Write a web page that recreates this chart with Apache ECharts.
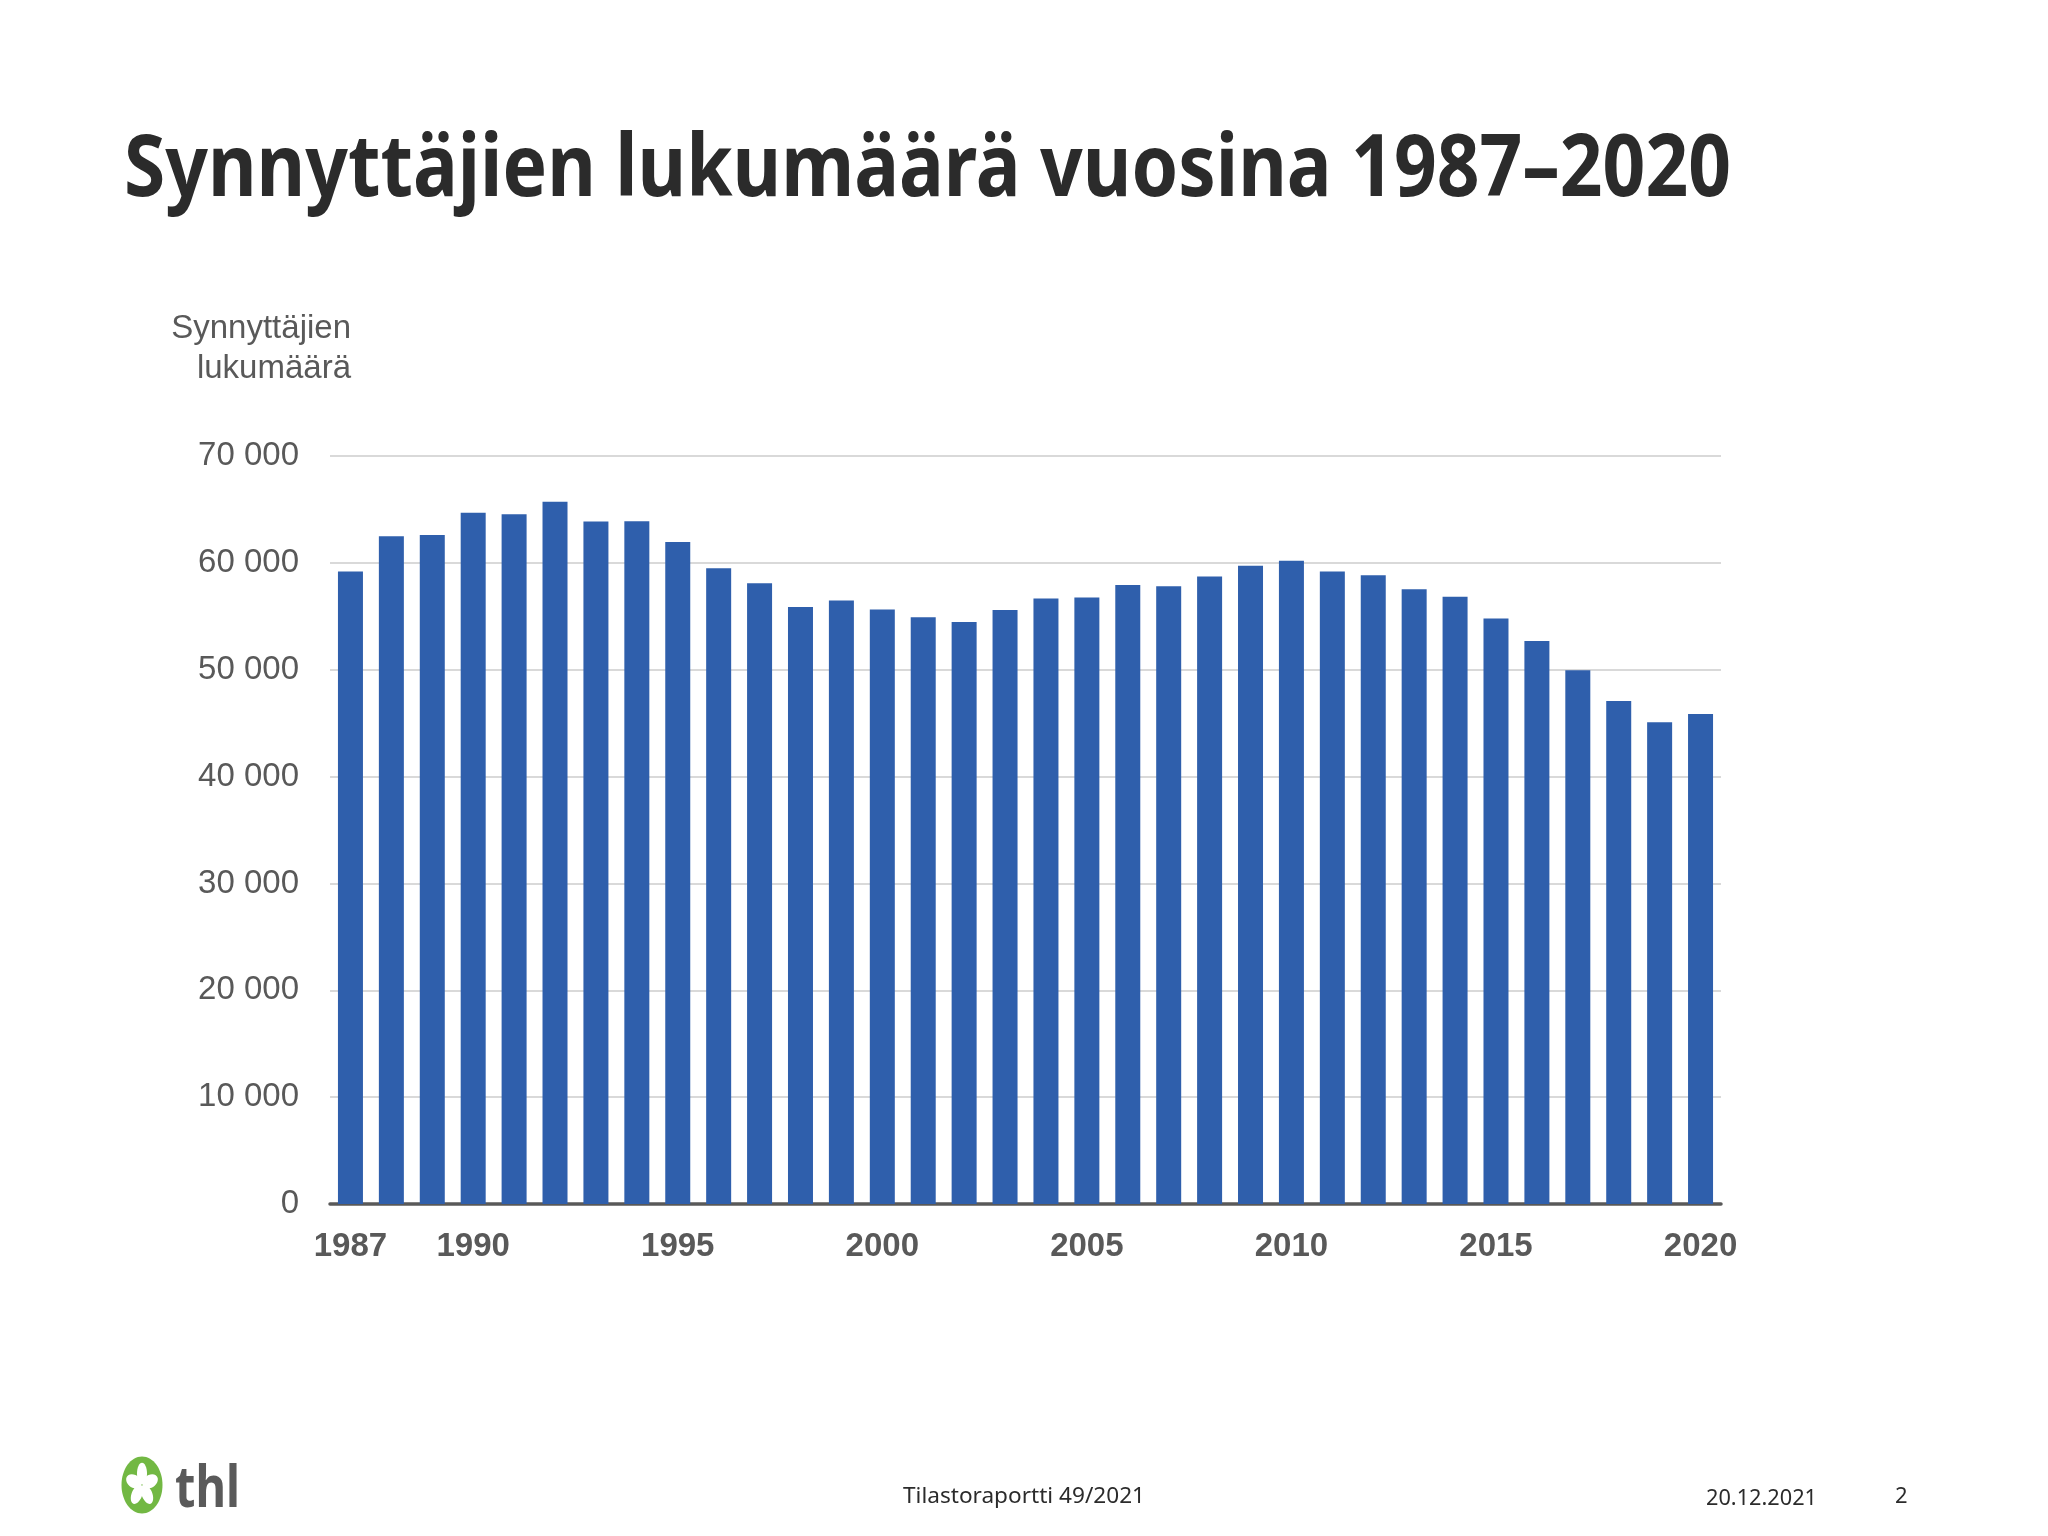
<!DOCTYPE html>
<html>
<head>
<meta charset="utf-8">
<script src="https://cdn.jsdelivr.net/npm/echarts@6/dist/echarts.min.js"></script>
<style>
  html, body { margin: 0; padding: 0; background: #ffffff; }
  #chart { width: 2048px; height: 1536px; }
</style>
</head>
<body>
<div id="chart"></div>
<script>
// ---- data ----
const titleText = 'Synnyttäjien lukumäärä vuosina 1987–2020';
const yAxisTitle = ['Synnyttäjien', 'lukumäärä'];
const years = ['1987','1988','1989','1990','1991','1992','1993','1994','1995','1996',
               '1997','1998','1999','2000','2001','2002','2003','2004','2005','2006',
               '2007','2008','2009','2010','2011','2012','2013','2014','2015','2016',
               '2017','2018','2019','2020'];
const mothers = [59200, 62500, 62600, 64700, 64550, 65730, 63860, 63890, 61960, 59500,
                 58100, 55860, 56480, 55640, 54920, 54460, 55580, 56660, 56760, 57920,
                 57820, 58720, 59720, 60190, 59190, 58850, 57540, 56820, 54800, 52680,
                 49940, 47070, 45080, 45860];
const shownYearLabels = ['1987','1990','1995','2000','2005','2010','2015','2020'];
const yMin = 0, yMax = 70000, yStep = 10000;
const footerCenter = 'Tilastoraportti 49/2021';
const footerDate = '20.12.2021';
const footerPage = '2';
const logoText = 'thl';

// ---- helpers ----
const measureCtx = document.createElement('canvas').getContext('2d');
function fitScale(text, font, target) {
  measureCtx.font = font;
  const w = measureCtx.measureText(text).width;
  return w > 0 ? target / w : 1;
}
function fmtThousands(v) {
  return String(v).replace(/\B(?=(\d{3})+(?!\d))/g, ' ');
}

const chart = echarts.init(document.getElementById('chart'), null, { renderer: 'canvas' });

const titleFont = 'bold 86px "Noto Sans"';
const titleScale = fitScale(titleText, titleFont, 1607);
const footFont = '22px "Noto Sans"';
const footScale = fitScale(footerCenter, footFont, 242);
const dateScale = fitScale(footerDate, footFont, 111);
const logoFont = 'bold 58px "Noto Sans"';
const logoScale = fitScale(logoText, logoFont, 65);

// petals for logo
const petals = [];
for (let i = 0; i < 5; i++) {
  petals.push({
    type: 'ellipse',
    rotation: -i * 2 * Math.PI / 5,
    shape: { cx: 0, cy: -8.5, rx: 5, ry: 8 },
    style: { fill: '#ffffff' }
  });
}

chart.setOption({
  backgroundColor: '#ffffff',
  animation: false,
  grid: { left: 330, right: 327, top: 456, bottom: 332, containLabel: false },
  xAxis: {
    type: 'category',
    data: years,
    axisTick: { show: false },
    axisLine: { lineStyle: { color: '#595959', width: 3.5 } },
    axisLabel: {
      interval: (idx, val) => shownYearLabels.indexOf(val) >= 0,
      color: '#595959',
      fontFamily: 'Liberation Sans',
      fontWeight: 'bold',
      fontSize: 33,
      margin: 26
    }
  },
  yAxis: {
    type: 'value',
    min: yMin, max: yMax, interval: yStep,
    axisLine: { show: false },
    axisTick: { show: false },
    splitLine: { lineStyle: { color: '#d9d9d9', width: 2 } },
    axisLabel: {
      formatter: v => fmtThousands(v),
      color: '#595959',
      fontFamily: 'Liberation Sans',
      fontSize: 33,
      margin: 31,
      padding: [3, 0, 0, 0]
    }
  },
  series: [{
    type: 'bar',
    data: mothers,
    barWidth: 25,
    itemStyle: { color: '#2f5fac' }
  }],
  graphic: [
    {
      type: 'text', x: 124, y: 171, scaleX: titleScale,
      style: { text: titleText, font: titleFont, fill: '#2b2b2b', textAlign: 'left', textVerticalAlign: 'middle' }
    },
    {
      type: 'text', x: 351, y: 349,
      style: { text: yAxisTitle.join('\n'), fontFamily: 'Liberation Sans', fontSize: 33, lineHeight: 40,
               fill: '#595959', textAlign: 'right', textVerticalAlign: 'middle' }
    },
    {
      type: 'group', x: 142, y: 1485,
      children: [
        { type: 'ellipse', shape: { cx: 0, cy: 0, rx: 20.5, ry: 28.5 }, style: { fill: '#72b843' } },
        { type: 'group', scaleY: 1.35, children: petals }
      ]
    },
    {
      type: 'text', x: 175, y: 1490, scaleX: logoScale,
      style: { text: logoText, font: logoFont, fill: '#5a5a5a', textAlign: 'left', textVerticalAlign: 'middle' }
    },
    {
      type: 'text', x: 903, y: 1497, scaleX: footScale,
      style: { text: footerCenter, font: footFont, fill: '#2b2b2b', textAlign: 'left', textVerticalAlign: 'middle' }
    },
    {
      type: 'text', x: 1706, y: 1499, scaleX: dateScale,
      style: { text: footerDate, font: footFont, fill: '#2b2b2b', textAlign: 'left', textVerticalAlign: 'middle' }
    },
    {
      type: 'text', x: 1895, y: 1497,
      style: { text: footerPage, font: footFont, fill: '#2b2b2b', textAlign: 'left', textVerticalAlign: 'middle' }
    }
  ]
});
</script>
</body>
</html>
